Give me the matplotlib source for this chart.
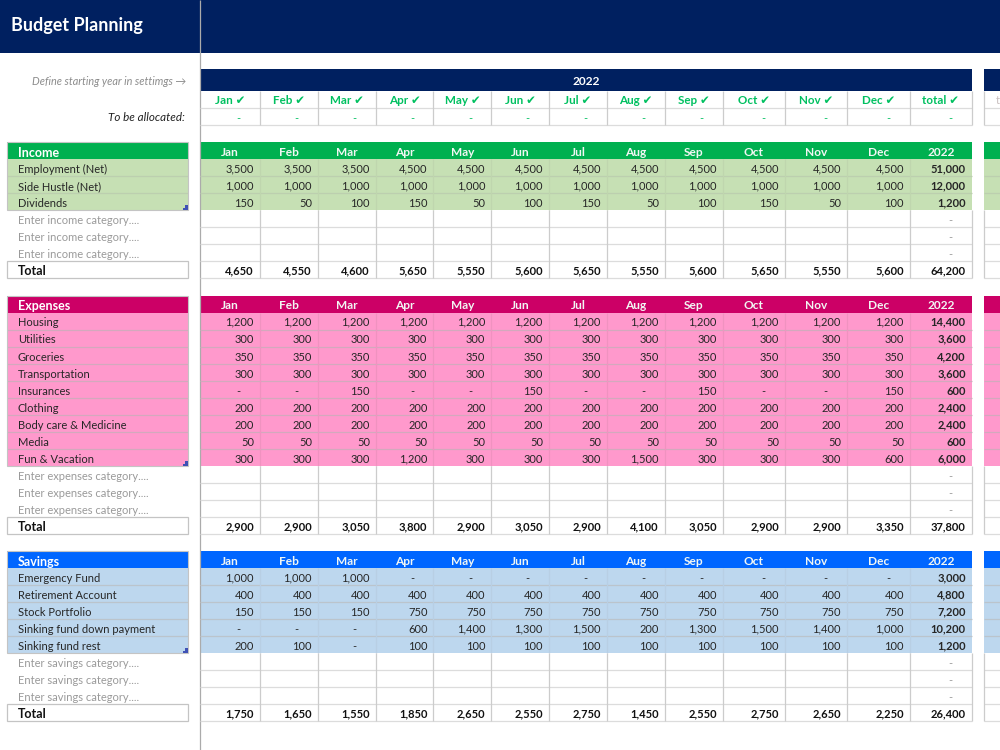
"""
Budget planning sheet, drawn as a grid of cells
"""

import matplotlib
matplotlib.use("Agg")
import matplotlib.pyplot as plt
from matplotlib.patches import Rectangle, Polygon

plt.rcParams['font.family'] = ['Lato', 'DejaVu Sans']

months = ['Jan', 'Feb', 'Mar', 'Apr', 'May', 'Jun', 'Jul', 'Aug', 'Sep', 'Oct', 'Nov', 'Dec']
year = '2022'
check_labels = ['Jan', 'Feb', 'Mar', 'Apr', 'May', 'Jun', 'Jul', 'Aug', 'Sep', 'Oct', 'Nov', 'Dec', 'total']

income_names = ['Employment (Net)', 'Side Hustle (Net)', 'Dividends']
income_values = [
    [3500, 3500, 3500, 4500, 4500, 4500, 4500, 4500, 4500, 4500, 4500, 4500, 51000],
    [1000, 1000, 1000, 1000, 1000, 1000, 1000, 1000, 1000, 1000, 1000, 1000, 12000],
    [150, 50, 100, 150, 50, 100, 150, 50, 100, 150, 50, 100, 1200],
]
income_total = [4650, 4550, 4600, 5650, 5550, 5600, 5650, 5550, 5600, 5650, 5550, 5600, 64200]

expense_names = ['Housing', 'Utilities', 'Groceries', 'Transportation', 'Insurances', 'Clothing',
                 'Body care & Medicine', 'Media', 'Fun & Vacation']
expense_values = [
    [1200, 1200, 1200, 1200, 1200, 1200, 1200, 1200, 1200, 1200, 1200, 1200, 14400],
    [300, 300, 300, 300, 300, 300, 300, 300, 300, 300, 300, 300, 3600],
    [350, 350, 350, 350, 350, 350, 350, 350, 350, 350, 350, 350, 4200],
    [300, 300, 300, 300, 300, 300, 300, 300, 300, 300, 300, 300, 3600],
    [0, 0, 150, 0, 0, 150, 0, 0, 150, 0, 0, 150, 600],
    [200, 200, 200, 200, 200, 200, 200, 200, 200, 200, 200, 200, 2400],
    [200, 200, 200, 200, 200, 200, 200, 200, 200, 200, 200, 200, 2400],
    [50, 50, 50, 50, 50, 50, 50, 50, 50, 50, 50, 50, 600],
    [300, 300, 300, 1200, 300, 300, 300, 1500, 300, 300, 300, 600, 6000],
]
expense_total = [2900, 2900, 3050, 3800, 2900, 3050, 2900, 4100, 3050, 2900, 2900, 3350, 37800]

saving_names = ['Emergency Fund', 'Retirement Account', 'Stock Portfolio',
                'Sinking fund down payment', 'Sinking fund rest']
saving_values = [
    [1000, 1000, 1000, 0, 0, 0, 0, 0, 0, 0, 0, 0, 3000],
    [400, 400, 400, 400, 400, 400, 400, 400, 400, 400, 400, 400, 4800],
    [150, 150, 150, 750, 750, 750, 750, 750, 750, 750, 750, 750, 7200],
    [0, 0, 0, 600, 1400, 1300, 1500, 200, 1300, 1500, 1400, 1000, 10200],
    [200, 100, 0, 100, 100, 100, 100, 100, 100, 100, 100, 100, 1200],
]
saving_total = [1750, 1650, 1550, 1850, 2650, 2550, 2750, 1450, 2550, 2750, 2650, 2250, 26400]

# Layout in sheet pixels
col_edges = [199.9, 259.9, 317.9, 375.9, 433.4, 491.4, 548.9, 606.9, 664.9, 722.9, 784.9, 846.9, 909.9, 971.9]
row_h = 17.03
label_left = 6.9; label_right = 187.9; label_text = 18
next_left = 983.9

NAVY = '#002060'; GRID = '#DCDCDC'; COL_LINE = '#CCCCCC'
TEXT = '#262626'; MUTED = '#9A9A9A'; CHECK = '#00C060'
FS = 8.0


def fmt(v):
    return '-' if v == 0 else format(v, ',')


def hline(ax, y, x0, x1, color=GRID, lw=0.9):
    ax.plot([x0, x1], [y, y], color=color, lw=lw, solid_capstyle='butt', zorder=3)


def vline(ax, x, y0, y1, color=COL_LINE, lw=0.9):
    ax.plot([x, x], [y0, y1], color=color, lw=lw, solid_capstyle='butt', zorder=3)


def put(ax, x, y, s, **kw):
    # whole pixel baselines, otherwise rows of text wobble
    ax.text(x, round(y), s, va='baseline', zorder=4, **kw)


def cell_text(ax, col, y, s, bold=False, color=TEXT):
    # right aligned like the accounting format, dashes sit further in
    right = col_edges[col + 1] - (19 if s == '-' else 6)
    # agg rounds the comma's descent down, so numbers with one land a pixel low
    nudge = 1 if ',' in s else 0
    put(ax, right, round(y) - nudge, s, ha='right', fontsize=FS, color=color,
        fontweight='bold' if bold else 'normal')


def draw_block(ax, top, title, names, values, total, empty_label, dark, light, line, vcol):
    n = len(names)
    y_left, y_right = col_edges[0], col_edges[-1]

    # header band
    ax.add_patch(Rectangle((label_left, top), label_right - label_left, row_h, fc=dark, ec='none', zorder=2))
    ax.add_patch(Rectangle((y_left, top), y_right - y_left, row_h, fc=dark, ec='none', zorder=2))
    ax.add_patch(Rectangle((next_left, top), 1000 - next_left, row_h, fc=dark, ec='none', zorder=2))
    put(ax, label_text, top + row_h / 2 + 6, title, ha='left', fontsize=9, fontweight='bold', color='white')
    for i, m in enumerate(months + [year]):
        put(ax, (col_edges[i] + col_edges[i + 1]) / 2, top + row_h / 2 + 5, m, ha='center',
            fontsize=8.6, fontweight='bold', color='#F2F7F4')

    # filled rows
    fill_top = top + row_h
    fill_bot = fill_top + n * row_h
    for x0, x1 in [(label_left, label_right), (y_left, y_right), (next_left, 1000)]:
        ax.add_patch(Rectangle((x0, fill_top), x1 - x0, n * row_h, fc=light, ec='none', zorder=1))
    for r in range(1, n):
        yy = fill_top + r * row_h
        hline(ax, yy, label_left, label_right, line)
        hline(ax, yy, y_left, y_right, line)
        hline(ax, yy, next_left, 1000, line)
    for x in col_edges[1:-1]:
        vline(ax, x, fill_top, fill_bot, vcol)
    for r, name in enumerate(names):
        yc = fill_top + (r + 0.5) * row_h
        put(ax, label_text, yc + 5.2, name, ha='left', fontsize=FS, color=TEXT)
        for c, v in enumerate(values[r]):
            cell_text(ax, c, yc + 5.2, fmt(v), bold=(c == 12))

    # little table resize handle
    hx = label_right; hy = fill_bot - 0.5
    ax.add_patch(Polygon([(hx, hy - 5), (hx, hy), (hx - 5, hy), (hx - 5, hy - 2), (hx - 2.5, hy - 2), (hx - 2.5, hy - 5)],
                         fc='#3F51B5', ec='none', zorder=5))

    # empty rows
    for r in range(3):
        yc = fill_bot + (r + 0.5) * row_h
        put(ax, label_text, yc + 5.2, empty_label, ha='left', fontsize=FS, color=MUTED)
        put(ax, col_edges[13] - 19, yc + 5.2, '-', ha='right', fontsize=FS, color=MUTED)
        yy = fill_bot + (r + 1) * row_h
        hline(ax, yy, y_left, y_right)
        hline(ax, yy, next_left, 1000)

    # total row
    tot_top = fill_bot + 3 * row_h
    tot_bot = tot_top + row_h
    ax.add_patch(Rectangle((label_left, tot_top), label_right - label_left, row_h, fc='white', ec='#C4C4C4', lw=0.9, zorder=3))
    put(ax, label_text, (tot_top + tot_bot) / 2 + 5.4, 'Total', ha='left', fontsize=9,
        fontweight='bold', color='#111111')
    hline(ax, tot_bot, y_left, y_right)
    hline(ax, tot_bot, next_left, 1000)
    for x in col_edges[1:]:
        vline(ax, x, fill_bot, tot_bot)
    vline(ax, next_left, fill_bot, tot_bot)
    for c, v in enumerate(total):
        cell_text(ax, c, (tot_top + tot_bot) / 2 + 5.4, fmt(v), bold=True, color='#111111')

    # light frame round the left label block
    ax.add_patch(Rectangle((label_left, top), label_right - label_left, fill_bot - top, fc='none', ec='#C4C4C4', lw=0.8, zorder=3))


fig = plt.figure(figsize=(10, 7.5), dpi=100)
ax = fig.add_axes([0, 0, 1, 1])
ax.set_xlim(0, 1000)
ax.set_ylim(750, 0)
ax.axis('off')

# title banner
ax.add_patch(Rectangle((0, 0), 1000, 52.5, fc=NAVY, ec='none', zorder=1))
put(ax, 11, 31, 'Budget Planning', ha='left', fontsize=13, fontweight='bold', color='white')
vline(ax, col_edges[0], 0, 750, '#ABABAB', 0.9)

# year band with the allocation check rows
ax.add_patch(Rectangle((col_edges[0], 69), col_edges[-1] - col_edges[0], 22, fc=NAVY, ec='none', zorder=2))
ax.add_patch(Rectangle((next_left, 69), 1000 - next_left, 22, fc=NAVY, ec='none', zorder=2))
put(ax, (col_edges[0] + col_edges[-1]) / 2, 85, year, ha='center', fontsize=8.6, fontweight='bold', color='white')
put(ax, 186, 85, 'Define starting year in settimgs \u2192', ha='right', fontsize=7.8,
    style='italic', color='#8C8C8C')
put(ax, 185, 121, 'To be allocated:', ha='right', fontsize=8.4, style='italic', color='#222222')
for i, lab in enumerate(check_labels):
    put(ax, (col_edges[i] + col_edges[i + 1]) / 2, 104, lab + ' \u2714', ha='center',
        fontsize=8.4, fontweight='bold', color=CHECK)
    put(ax, col_edges[i + 1] - 19, 122, '-', ha='right', fontsize=FS, color=CHECK)
for y in [108.2, 125.2]:
    hline(ax, y, col_edges[0], col_edges[-1])
    hline(ax, y, next_left, 1000)
for x in col_edges[1:]:
    vline(ax, x, 91, 125.2)
vline(ax, next_left, 91, 125.2)
put(ax, next_left + 12, 104, 't', ha='left', fontsize=FS, color='#C8BEBE')

draw_block(ax, 142.2, 'Income', income_names, income_values, income_total, 'Enter income category....',
           '#00B050', '#C6E0B4', '#BCCFAF', '#BFD6AE')
draw_block(ax, 295.7, 'Expenses', expense_names, expense_values, expense_total, 'Enter expenses category....',
           '#CC0066', '#FF99CC', '#D3A9BD', '#F092C0')
draw_block(ax, 551, 'Savings', saving_names, saving_values, saving_total, 'Enter savings category....',
           '#0066FF', '#BDD7EE', '#BBC4CC', '#B8CFE4')

fig.savefig('out.png', dpi=100)
